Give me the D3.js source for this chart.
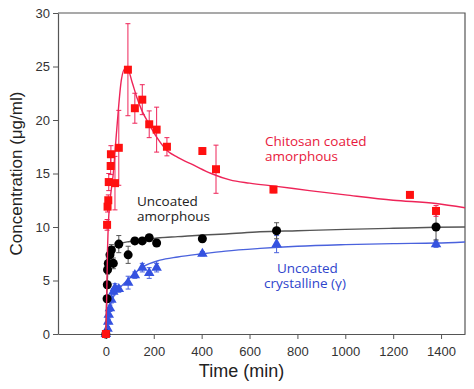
<!DOCTYPE html>
<html>
<head>
<meta charset="utf-8">
<script src="https://cdn.jsdelivr.net/npm/d3@7"></script>
<style>
  body { margin: 0; background: #fff; }
  svg { display: block; }
</style>
</head>
<body>
<div id="plot"></div>
<script>
// measured points (time in min, concentration in ug/ml, error)
var redTime = [0, 5, 7, 10, 12, 20, 21, 38, 54, 92, 121, 152, 181, 212, 255, 403, 460, 700, 1270, 1379];
var redConc = [0, 10.2, 11.9, 12.5, 14.2, 15.7, 16.8, 14.1, 17.4, 24.7, 21.1, 21.9, 19.6, 19.1, 17.5, 17.1, 15.4, 13.5, 13.0, 11.5];
var redErr  = [0, 0.5, 0.5, 0.5, 0.8, 0.8, 0.8, 2.5, 3.5, 4.3, 1.4, 1.4, 1.25, 2.1, 0.85, 0.3, 2.25, 0.3, 0, 0.5];

var blackTime = [0, 5, 6, 7, 10, 17, 23, 31, 54, 93, 121, 152, 181, 212, 403, 713, 1379];
var blackConc = [0, 3.3, 4.6, 6.0, 6.6, 7.4, 7.85, 6.6, 8.4, 7.4, 8.7, 8.7, 9.0, 8.5, 8.9, 9.65, 10.0];
var blackErr  = [0, 0.3, 0.3, 0.4, 0.5, 0.5, 0.5, 0.5, 0.8, 0.8, 0.3, 0.3, 0.3, 0.3, 0.3, 0.75, 1.2];

var blueTime = [0, 7, 10, 12, 17, 23, 31, 38, 54, 93, 121, 152, 181, 212, 403, 713, 1379];
var blueConc = [0, 0.5, 1.15, 1.8, 2.4, 3.2, 3.95, 4.3, 4.2, 4.8, 5.5, 6.2, 5.7, 6.2, 7.5, 8.4, 8.4];
var blueErr  = [0, 0.2, 0.2, 0.3, 0.3, 0.3, 0.3, 0.4, 0.3, 0.6, 0.3, 0.4, 0.5, 0.4, 0.2, 0.8, 0.3];

// fitted curves
var redFitTime = [0, 3, 7, 12, 20, 30, 45, 65, 80, 90, 110, 128, 150, 181, 215, 253, 300, 365, 440, 518, 600, 713, 850, 1000, 1200, 1379, 1500];
var redFitConc = [0, 3, 8, 11, 13, 14.8, 19, 23.8, 24.8, 24.8, 23.5, 22.2, 20.9, 19.6, 18.3, 17.2, 16.5, 15.8, 15.0, 14.4, 14.1, 13.8, 13.4, 13.0, 12.5, 12.2, 11.8];

var blackFitTime = [0, 3, 7, 12, 20, 30, 54, 100, 150, 226, 300, 403, 500, 644, 800, 1000, 1200, 1379, 1500];
var blackFitConc = [0, 3, 5.5, 6.8, 7.6, 8.0, 8.4, 8.65, 8.8, 9.0, 9.1, 9.25, 9.35, 9.55, 9.65, 9.78, 9.88, 9.97, 10.0];

var blueFitTime = [0, 3, 10, 17, 30, 51, 93, 156, 226, 300, 403, 500, 644, 800, 1000, 1200, 1379, 1500];
var blueFitConc = [0, 0.4, 1.4, 2.5, 3.4, 4.1, 5.1, 6.3, 6.9, 7.2, 7.5, 7.75, 8.0, 8.2, 8.35, 8.45, 8.5, 8.6];

var xTicks = [0, 200, 400, 600, 800, 1000, 1200, 1400];
var yTicks = [0, 5, 10, 15, 20, 25, 30];

var redColor = "#ff1010", redLine = "#ee2458", redText = "#e8193c";
var blackColor = "#000", blackLine = "#555";
var blueColor = "#3552e0", blueLine = "#4a62dd", blueText = "#2e44cc";

var margin = { top: 13, right: 9, bottom: 55, left: 58 },
  width = 474 - margin.left - margin.right,
  height = 389 - margin.top - margin.bottom;

var svg = d3.select("#plot")
  .append("svg")
  .attr("width", 474)
  .attr("height", 389)
  .append("g")
  .attr("transform", "translate(" + margin.left + "," + margin.top + ")");

var x = d3.scaleLinear().domain([-200, 1500]).range([0, width]);
var y = d3.scaleLinear().domain([0, 30]).range([height, 0]);

// frame top + right
svg.append("path")
  .attr("d", "M0,0H" + width + "V" + height)
  .attr("fill", "none")
  .attr("stroke", "#555")
  .attr("stroke-width", 1.2);

var xAxis = svg.append("g")
  .attr("transform", "translate(0," + height + ")")
  .call(d3.axisBottom(x).tickValues(xTicks).tickFormat(d3.format("d")).tickSize(5).tickSizeOuter(0));
var yAxis = svg.append("g")
  .call(d3.axisLeft(y).tickValues(yTicks).tickFormat(d3.format("d")).tickSize(5).tickSizeOuter(0));

[xAxis, yAxis].forEach(function (a) {
  a.select(".domain").attr("stroke", "#555").attr("stroke-width", 1.2);
  a.selectAll(".tick line").attr("stroke", "#555");
  a.selectAll(".tick text")
    .attr("fill", "#333")
    .style("font-family", "Liberation Sans, Arial, sans-serif")
    .style("font-size", "13px");
});
xAxis.selectAll(".tick text").attr("dy", "1.05em");

svg.append("text")
  .attr("x", width / 2 - 20)
  .attr("y", height + 43)
  .attr("text-anchor", "middle")
  .style("font-family", "Liberation Sans, Arial, sans-serif")
  .style("font-size", "18px")
  .attr("fill", "#222")
  .text("Time (min)");

svg.append("text")
  .attr("transform", "translate(-36," + (height / 2) + ") rotate(-90)")
  .attr("text-anchor", "middle")
  .style("font-family", "Liberation Sans, Arial, sans-serif")
  .style("font-size", "17px")
  .attr("fill", "#222")
  .text("Concentration (μg/ml)");

function zip(ts, cs, es) {
  return ts.map(function (t, i) { return { t: t, c: cs[i], e: es ? es[i] : 0 }; });
}

var line = d3.line()
  .x(function (d) { return x(d.t); })
  .y(function (d) { return y(d.c); })
  .curve(d3.curveMonotoneX);

function drawSeries(pts, fit, lineColor, markColor, shape) {
  var g = svg.append("g");
  g.append("path")
    .datum(fit)
    .attr("d", line)
    .attr("fill", "none")
    .attr("stroke", lineColor)
    .attr("stroke-width", 1.4);

  // error bars
  var eb = g.selectAll(".eb")
    .data(pts.filter(function (d) { return d.e > 0; }))
    .enter().append("g")
    .attr("stroke", lineColor)
    .attr("stroke-width", 1);
  eb.append("line")
    .attr("x1", function (d) { return x(d.t); })
    .attr("x2", function (d) { return x(d.t); })
    .attr("y1", function (d) { return y(d.c + d.e); })
    .attr("y2", function (d) { return y(d.c - d.e); });
  eb.append("line")
    .attr("x1", function (d) { return x(d.t) - 2.5; })
    .attr("x2", function (d) { return x(d.t) + 2.5; })
    .attr("y1", function (d) { return y(d.c + d.e); })
    .attr("y2", function (d) { return y(d.c + d.e); });
  eb.append("line")
    .attr("x1", function (d) { return x(d.t) - 2.5; })
    .attr("x2", function (d) { return x(d.t) + 2.5; })
    .attr("y1", function (d) { return y(d.c - d.e); })
    .attr("y2", function (d) { return y(d.c - d.e); });

  g.selectAll(".mk")
    .data(pts)
    .enter().append("path")
    .attr("transform", function (d) { return "translate(" + x(d.t) + "," + y(d.c) + ")"; })
    .attr("d", d3.symbol().type(shape).size(shape == d3.symbolTriangle ? 48 : 64))
    .attr("fill", markColor);
}

drawSeries(zip(blueTime, blueConc, blueErr), zip(blueFitTime, blueFitConc), blueLine, blueColor, d3.symbolTriangle);
drawSeries(zip(blackTime, blackConc, blackErr), zip(blackFitTime, blackFitConc), blackLine, blackColor, d3.symbolCircle);
drawSeries(zip(redTime, redConc, redErr), zip(redFitTime, redFitConc), redLine, redColor, d3.symbolSquare);

// two-line labels, each line its own text
function label(lines, xs, py, color) {
  lines.forEach(function (s, i) {
    svg.append("text")
      .attr("x", xs[i] - margin.left)
      .attr("y", py - margin.top + i * 15)
      .style("font-family", "Open Sans, sans-serif")
      .style("font-size", "13.5px")
      .attr("fill", color)
      .text(s);
  });
}

label(["Chitosan coated", "amorphous"], [265, 265], 146, redText);
label(["Uncoated", "amorphous"], [137, 137], 206, "#222");
label(["Uncoated", "crystalline (γ)"], [277, 264], 273, blueText);
</script>
</body>
</html>
